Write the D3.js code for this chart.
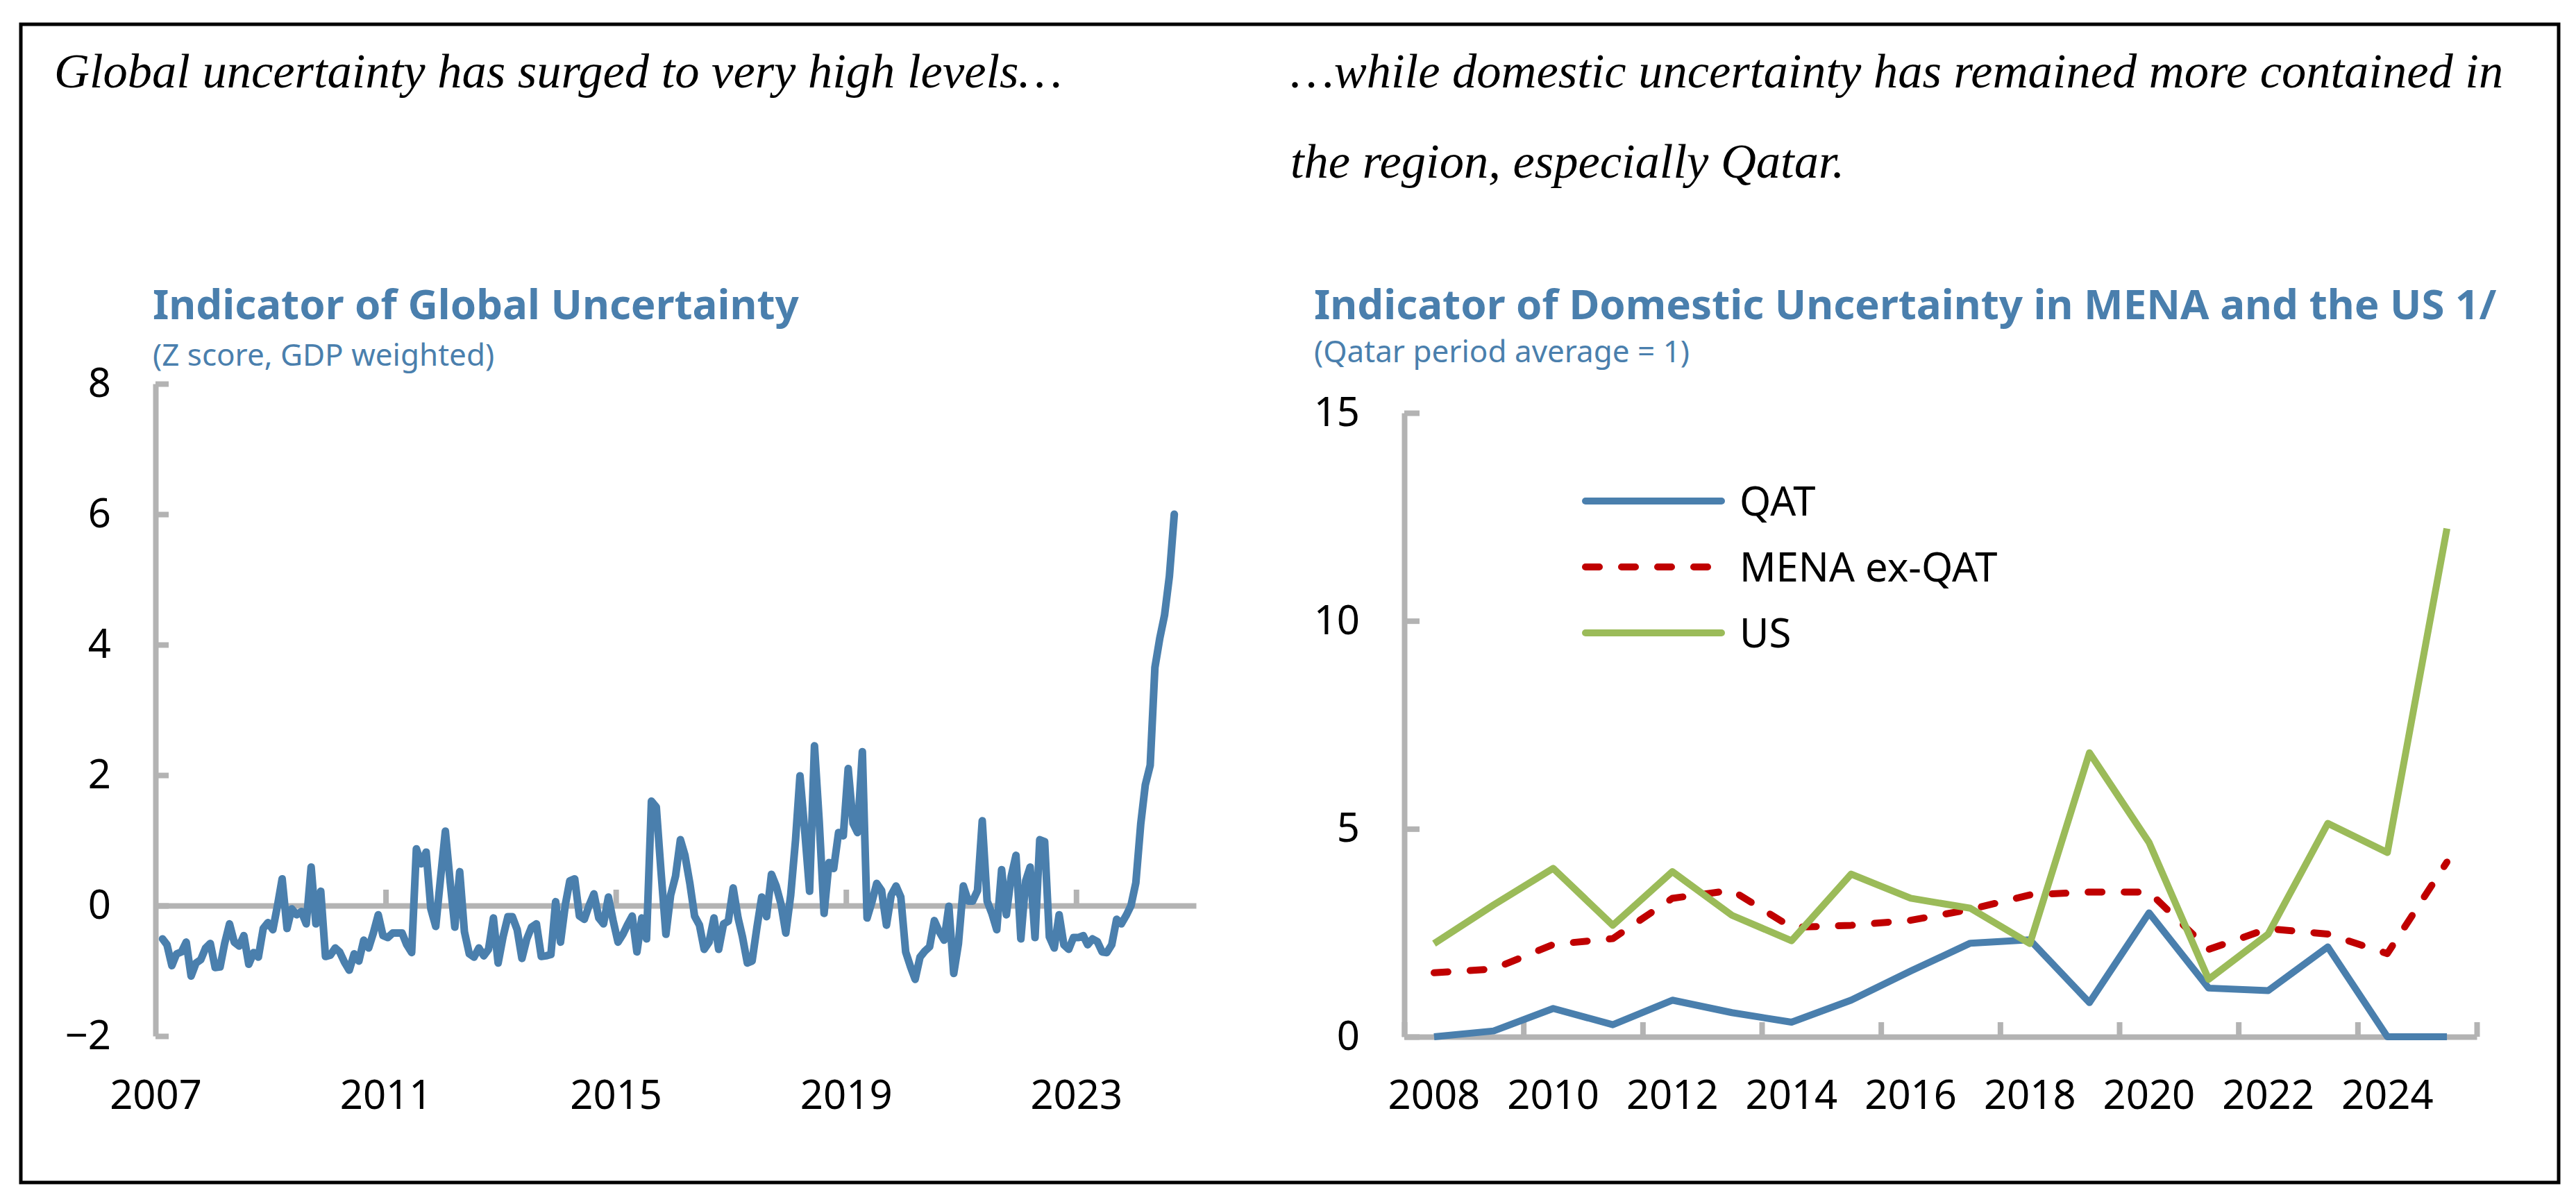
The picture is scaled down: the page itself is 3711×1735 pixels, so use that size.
<!DOCTYPE html>
<html>
<head>
<meta charset="utf-8">
<script src="https://d3js.org/d3.v7.min.js"></script>
<style>
body { margin: 0; background: #fff; }
.serif { font-family: "Liberation Serif", serif; font-style: italic; fill: #000; }
.sans { font-family: "Noto Sans", "Open Sans", sans-serif; }
.title { font-weight: bold; fill: #4A7FAD; }
.sub { fill: #4A7FAD; }
.axis text { font-family: "Noto Sans", sans-serif; fill: #000; }
</style>
</head>
<body>
<svg id="chart" width="3711" height="1735"></svg>
<script>
// ---- left panel: indicator of global uncertainty, monthly from Feb 2007 ----
var globalStart = new Date(2007, 1, 15);
var globalValues = [
  -0.51,-0.60,-0.92,-0.74,-0.71,-0.56,-1.08,-0.88,-0.83,-0.65,
  -0.58,-0.95,-0.94,-0.58,-0.28,-0.56,-0.62,-0.46,-0.90,-0.72,
  -0.79,-0.35,-0.26,-0.37,0.02,0.41,-0.35,-0.05,-0.14,-0.09,
  -0.28,0.59,-0.28,0.22,-0.78,-0.76,-0.65,-0.71,-0.87,-0.99,
  -0.74,-0.85,-0.53,-0.65,-0.42,-0.14,-0.46,-0.49,-0.42,-0.42,
  -0.42,-0.60,-0.72,0.87,0.64,0.82,
  -0.05,-0.32,0.41,1.14,0.35,-0.33,0.52,-0.40,-0.74,-0.79,
  -0.65,-0.77,-0.67,-0.19,-0.88,-0.48,-0.17,-0.17,-0.37,-0.81,
  -0.51,-0.33,-0.28,-0.78,-0.77,-0.75,0.06,-0.56,0.02,0.38,
  0.41,-0.16,-0.21,0.00,0.18,-0.19,-0.28,0.13,-0.23,-0.56,
  -0.44,-0.30,-0.16,-0.71,-0.19,-0.51,1.60,1.51,0.52,-0.44,
  0.16,0.45,1.01,0.77,0.34,-0.16,-0.30,-0.67,-0.56,-0.19,
  -0.67,-0.28,-0.24,0.27,-0.19,-0.48,-0.88,-0.85,-0.33,0.13,
  -0.17,0.48,0.30,0.02,-0.42,0.16,1.01,1.99,1.12,0.22,
  2.45,1.30,-0.12,0.66,0.57,1.12,1.07,2.10,1.26,1.12,2.36,
  -0.19,0.06,0.34,0.23,-0.30,0.16,0.30,0.13,-0.71,-0.94,
  -1.13,-0.79,-0.70,-0.63,-0.23,-0.40,-0.53,-0.01,-1.04,-0.58,
  0.30,0.07,0.07,0.23,1.30,0.07,-0.12,-0.37,0.55,-0.14,
  0.45,0.77,-0.51,0.38,0.59,-0.49,1.01,0.98,-0.48,-0.65,
  -0.14,-0.60,-0.67,-0.49,-0.49,-0.46,-0.60,-0.51,-0.55,-0.71,
  -0.72,-0.60,-0.21,-0.28,-0.15,0.00,
  0.35,1.25,1.85,2.15,3.65,4.10,4.45,5.05,6.00
];
var globalTickYears = [2007, 2011, 2015, 2019, 2023];
var globalYTicks = [-2, 0, 2, 4, 6, 8];

// ---- right panel: domestic uncertainty, annual ----
var years = [2008,2009,2010,2011,2012,2013,2014,2015,2016,2017,2018,2019,2020,2021,2022,2023,2024,2025];
var qat  = [0.00,0.14,0.68,0.29,0.88,0.58,0.35,0.88,1.58,2.25,2.33,0.82,2.98,1.17,1.11,2.16,0.00,0.00];
var mena = [1.54,1.63,2.22,2.36,3.33,3.52,2.63,2.68,2.80,3.06,3.41,3.48,3.48,2.10,2.60,2.47,2.00,4.20];
var us   = [2.24,3.17,4.05,2.68,3.97,2.92,2.31,3.91,3.33,3.09,2.24,6.83,4.67,1.38,2.47,5.13,4.43,12.22];
var yearLabels = [2008,2010,2012,2014,2016,2018,2020,2022,2024];
var domesticYTicks = [0, 5, 10, 15];
var seriesNames = ["QAT", "MENA ex-QAT", "US"];

var blue = "#4A7FAD", red = "#C00000", green = "#9BBB59", grey = "#B3B3B3";

var svg = d3.select("#chart");

// frame
svg.append("rect")
  .attr("x", 30).attr("y", 35).attr("width", 3656).attr("height", 1669)
  .attr("fill", "none").attr("stroke", "#000").attr("stroke-width", 5);

// headlines
svg.append("text").attr("class", "serif").attr("x", 78).attr("y", 126)
  .style("font-size", "70.5px").text("Global uncertainty has surged to very high levels…");
svg.append("text").attr("class", "serif").attr("x", 1859).attr("y", 126)
  .style("font-size", "70.5px").text("…while domestic uncertainty has remained more contained in");
svg.append("text").attr("class", "serif").attr("x", 1859).attr("y", 256)
  .style("font-size", "70.5px").text("the region, especially Qatar.");

// chart titles
svg.append("text").attr("class", "sans title").attr("x", 220).attr("y", 460)
  .style("font-size", "60px").text("Indicator of Global Uncertainty");
svg.append("text").attr("class", "sans sub").attr("x", 220).attr("y", 527)
  .style("font-size", "44px").text("(Z score, GDP weighted)");
svg.append("text").attr("class", "sans title").attr("x", 1893).attr("y", 460)
  .style("font-size", "60px").text("Indicator of Domestic Uncertainty in MENA and the US 1/");
svg.append("text").attr("class", "sans sub").attr("x", 1893).attr("y", 522)
  .style("font-size", "44px").text("(Qatar period average = 1)");

function styleAxis(g) {
  g.selectAll("path, line").attr("stroke", grey).attr("stroke-width", 8);
  g.selectAll("text").style("font-size", "58px");
}

// ---------- left chart ----------
var xL = d3.scaleTime()
  .domain([new Date(2007, 0, 1), new Date(2025, 0, 31)])
  .range([224, 1723]);
var yL = d3.scaleLinear().domain([-2, 8]).range([1493, 553]);

svg.append("g").attr("class", "axis")
  .attr("transform", "translate(224,0)")
  .call(d3.axisLeft(yL).tickValues(globalYTicks).tickSize(-19).tickSizeOuter(0)
        .tickPadding(64).tickFormat(d3.format("d")))
  .call(styleAxis);

svg.append("g").attr("class", "axis")
  .attr("transform", "translate(0," + yL(0) + ")")
  .call(d3.axisTop(xL).tickValues(globalTickYears.slice(1).map(function(y) { return new Date(y, 0, 1); }))
        .tickSize(23).tickSizeOuter(0).tickFormat(""))
  .call(styleAxis);

svg.append("g").attr("class", "axis")
  .attr("transform", "translate(0,1557)")
  .call(d3.axisBottom(xL).tickValues(globalTickYears.map(function(y) { return new Date(y, 0, 1); }))
        .tickSize(0).tickPadding(0).tickFormat(d3.timeFormat("%Y")))
  .call(function(g) { g.select(".domain").remove(); })
  .call(styleAxis);

var globalLine = d3.line()
  .x(function(d, i) { return xL(d3.timeMonth.offset(globalStart, i)); })
  .y(function(d) { return yL(d); });

svg.append("path").datum(globalValues)
  .attr("d", globalLine)
  .attr("fill", "none").attr("stroke", blue).attr("stroke-width", 11)
  .attr("stroke-linejoin", "round").attr("stroke-linecap", "round");

// ---------- right chart ----------
var xR = d3.scaleBand().domain(years).range([2023, 3568]).padding(0);
var xRi = d3.scaleLinear().domain([0, years.length]).range([2023, 3568]);
var yR = d3.scaleLinear().domain([0, 15]).range([1494, 595]);

svg.append("g").attr("class", "axis")
  .attr("transform", "translate(2023,0)")
  .call(d3.axisLeft(yR).tickValues(domesticYTicks).tickSize(-22).tickSizeOuter(0)
        .tickPadding(64))
  .call(styleAxis);

svg.append("g").attr("class", "axis")
  .attr("transform", "translate(0," + yR(0) + ")")
  .call(d3.axisTop(xRi).tickValues(d3.range(0, years.length + 1, 2))
        .tickSize(21).tickSizeOuter(0).tickFormat(""))
  .call(styleAxis);

svg.append("g").attr("class", "axis")
  .attr("transform", "translate(0,1557)")
  .call(d3.axisBottom(xR).tickValues(yearLabels).tickSize(0).tickPadding(0))
  .call(function(g) { g.select(".domain").remove(); })
  .call(styleAxis);

var domLine = function(vals) {
  return d3.line()
    .x(function(d, i) { return xR(years[i]) + xR.bandwidth() / 2; })
    .y(function(d) { return yR(d); })(vals);
};

var series = [
  { name: seriesNames[0], values: qat,  color: blue,  dash: null },
  { name: seriesNames[1], values: mena, color: red,   dash: "20 32" },
  { name: seriesNames[2], values: us,   color: green, dash: null }
];

series.forEach(function(s) {
  svg.append("path")
    .attr("d", domLine(s.values))
    .attr("fill", "none").attr("stroke", s.color).attr("stroke-width", 10)
    .attr("stroke-linejoin", "round")
    .attr("stroke-linecap", s.dash ? "round" : "butt")
    .attr("stroke-dasharray", s.dash);
});

// legend
var legend = svg.append("g").attr("transform", "translate(2284,722)");
series.forEach(function(s, i) {
  var row = legend.append("g").attr("transform", "translate(0," + (i * 95) + ")");
  row.append("line").attr("x1", 0).attr("x2", 196)
    .attr("stroke", s.color).attr("stroke-width", 10)
    .attr("stroke-linecap", "round")
    .attr("stroke-dasharray", s.dash);
  row.append("text").attr("class", "sans").attr("x", 222).attr("dy", "0.36em")
    .style("font-size", "58px").attr("fill", "#000").text(s.name);
});
</script>
</body>
</html>
